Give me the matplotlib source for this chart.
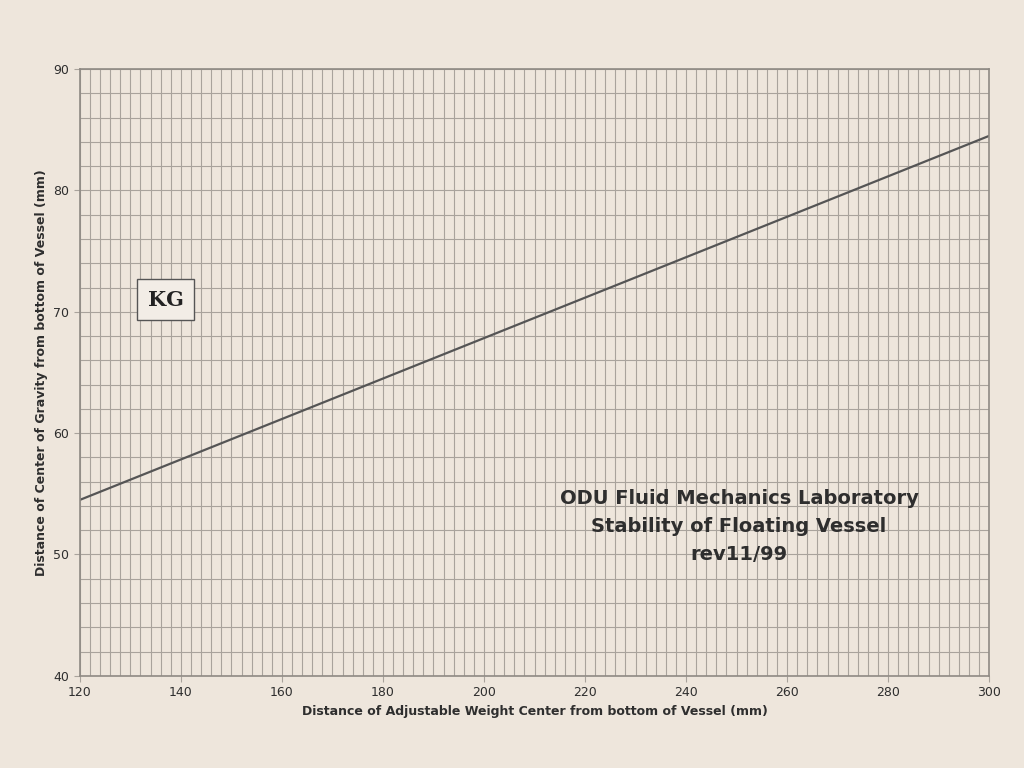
import matplotlib.pyplot as plt
import numpy as np

# values
kg_x = [120, 180, 240, 300]
kg_y = [54.5, 64.5, 74.5, 84.5]
x_ticks = [120, 140, 160, 180, 200, 220, 240, 260, 280, 300]
y_ticks = [40, 50, 60, 70, 80, 90]
note = 'ODU Fluid Mechanics Laboratory\nStability of Floating Vessel\nrev11/99'

paper = '#eee6dc'
ink = '#2e2e2e'
grid = '#a9a39c'

fig = plt.figure(figsize=(10.24, 7.68), dpi=100, facecolor=paper)
ax = fig.add_axes([0.078, 0.12, 0.888, 0.79])
ax.set_facecolor(paper)

ax.set_xlim(120, 300)
ax.set_ylim(40, 90)
ax.set_xticks(np.arange(120, 301, 2), minor=True)
ax.set_yticks(np.arange(40, 91, 2), minor=True)
ax.set_xticks(x_ticks)
ax.set_yticks(y_ticks)
ax.grid(which='both', color=grid, linewidth=0.8)
ax.tick_params(which='minor', length=0)
ax.tick_params(which='major', length=4, color=grid, labelsize=9, labelcolor=ink)
for s in ax.spines.values():
    s.set_color('#8f8a84')
    s.set_linewidth(1.2)

ax.plot(kg_x, kg_y, color='#555555', linewidth=1.6)

ax.set_xlabel('Distance of Adjustable Weight Center from bottom of Vessel (mm)',
              fontsize=9, fontweight='bold', color=ink)
ax.set_ylabel('Distance of Center of Gravity from bottom of Vessel (mm)',
              fontsize=9, fontweight='bold', color=ink)

ax.text(137, 71, 'KG', family='DejaVu Serif', fontsize=15, fontweight='bold',
        color='#222222', ha='center', va='center',
        bbox=dict(boxstyle='square,pad=0.5', facecolor='#f2ede6', edgecolor='#555555', linewidth=1))
ax.text(250.5, 52.3, note, fontsize=14, fontweight='bold', color=ink,
        ha='center', va='center', linespacing=1.6)

fig.savefig('out.png', dpi=100, facecolor=paper)
